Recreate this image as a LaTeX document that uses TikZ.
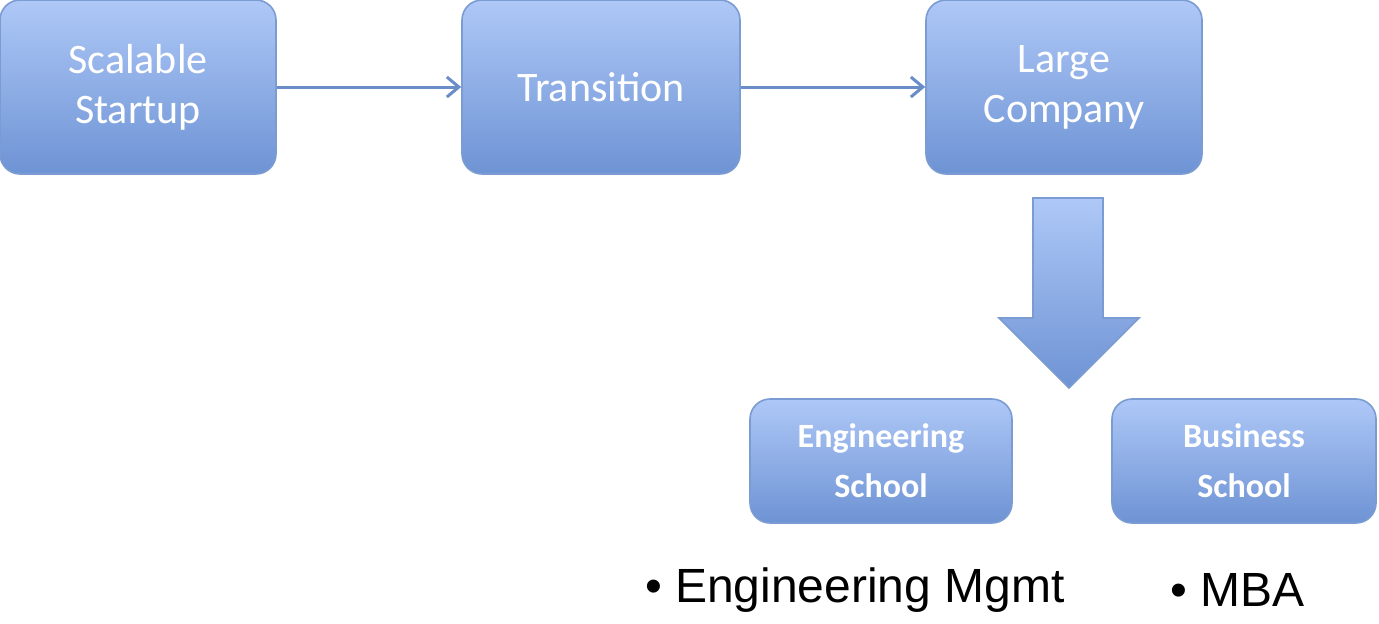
\documentclass[tikz,border=0pt]{standalone}
\usepackage{fontspec}
\usetikzlibrary{arrows.meta}
\setmainfont{Carlito}
\newfontfamily\arialf{Liberation Sans}
\begin{document}
\begin{tikzpicture}[x=0.5pt,y=-0.5pt,
  box/.style={draw=edgec,line width=0.8pt,rounded corners=10pt,top color=topc,bottom color=botc,text=white,align=center,inner sep=0pt},
  conn/.style={draw=linec,line width=1.5pt,-{Straight Barb[length=6pt,width=10pt]}}]
\definecolor{topc}{HTML}{AEC8F7}
\definecolor{botc}{HTML}{6E93D4}
\definecolor{edgec}{HTML}{7B9CD2}
\definecolor{linec}{HTML}{6A8CC8}
\useasboundingbox (0,0) rectangle (1379,623);
\node[box,minimum width=138pt,minimum height=87pt,font=\fontsize{21}{25}\selectfont] (a) at (138,87) {Scalable\\Startup};
\node[box,minimum width=139pt,minimum height=87pt,font=\fontsize{21}{25}\selectfont] (b) at (601,87) {Transition};
\node[box,minimum width=138pt,minimum height=87pt,font=\fontsize{21}{25}\selectfont] (c) at (1064,87) {Large\\Company};
\node[box,minimum width=131pt,minimum height=62pt,font=\bfseries\fontsize{17}{25}\selectfont] (d) at (881,461) {Engineering\\School};
\node[box,minimum width=132pt,minimum height=62pt,font=\bfseries\fontsize{17}{25}\selectfont] (e) at (1244,461) {Business\\School};
\draw[conn] (a.east) -- (b.west);
\draw[conn] (b.east) -- (c.west);
\shade[top color=topc,bottom color=botc,draw=edgec,line width=0.8pt]
 (1033,198) -- (1103,198) -- (1103,318) -- (1139,318) -- (1069,388) -- (999,318) -- (1033,318) -- cycle;
\node[anchor=west,font=\arialf\fontsize{24}{28}\selectfont] (f) at (638,590) {\textbullet\ Engineering Mgmt};
\node[anchor=west,font=\arialf\fontsize{24}{28}\selectfont] (g) at (1163,590) {\textbullet\ MBA};
\end{tikzpicture}
\end{document}
